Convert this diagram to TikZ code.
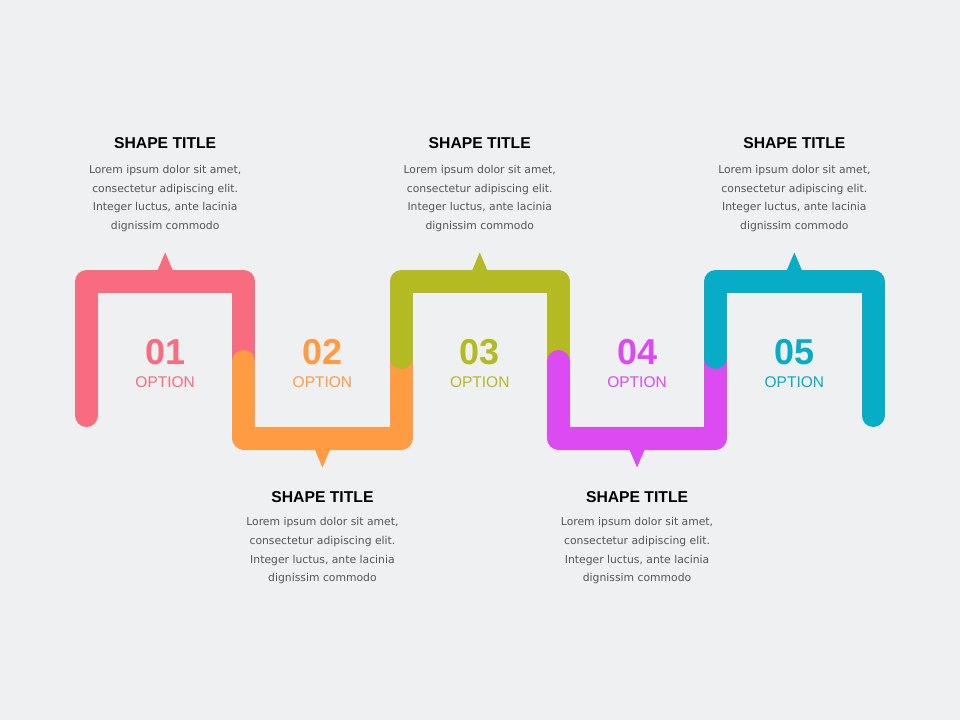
\documentclass[tikz,border=0pt]{standalone}
\usepackage{fontspec}
\setmainfont{Liberation Sans}
\newfontfamily\bodyfont{DejaVu Sans}
\definecolor{bg}{HTML}{EEF0F2}
\definecolor{cA}{HTML}{F96B7F}
\definecolor{cB}{HTML}{FF9B42}
\definecolor{cC}{HTML}{B4BB22}
\definecolor{cD}{HTML}{DB4BF1}
\definecolor{cE}{HTML}{07ADC7}
\definecolor{txt}{HTML}{555555}
\begin{document}
\begin{tikzpicture}[x=1pt,y=-1pt,
 band/.style={line width=23pt, line join=round, line cap=round},
 num/.style={font=\fontsize{36}{36}\selectfont\bfseries, anchor=base, inner sep=0},
 opt/.style={font=\fontsize{15.5}{15.5}\selectfont, anchor=base, inner sep=0},
 ttl/.style={font=\fontsize{15.7}{15.7}\selectfont\bfseries, anchor=base, inner sep=0, text=black},
 body/.style={font=\bodyfont\fontsize{10.8}{18.7}\selectfont, text=txt, align=center, anchor=north, inner sep=0}]
\fill[bg] (0,0) rectangle (960,720);
\useasboundingbox (0,0) rectangle (960,720);
% columns
\def\Xa{86.5}\def\Xb{243.8}\def\Xc{401.1}\def\Xd{558.4}\def\Xe{715.7}\def\Xf{873}
\def\Yt{281.5}\def\Yb{438}
% band corner coordinates
\coordinate (a0) at (\Xa,415.5); \coordinate (a1) at (\Xa,\Yt); \coordinate (a2) at (\Xb,\Yt); \coordinate (a3) at (\Xb,361.5);
\coordinate (b0) at (\Xb,361.5); \coordinate (b1) at (\Xb,\Yb); \coordinate (b2) at (\Xc,\Yb); \coordinate (b3) at (\Xc,357.5);
\coordinate (c0) at (\Xc,357.5); \coordinate (c1) at (\Xc,\Yt); \coordinate (c2) at (\Xd,\Yt); \coordinate (c3) at (\Xd,361.5);
\coordinate (d0) at (\Xd,361.5); \coordinate (d1) at (\Xd,\Yb); \coordinate (d2) at (\Xe,\Yb); \coordinate (d3) at (\Xe,357.5);
\coordinate (e0) at (\Xe,357.5); \coordinate (e1) at (\Xe,\Yt); \coordinate (e2) at (\Xf,\Yt); \coordinate (e3) at (\Xf,415.5);
% bands with pointers
\draw[band, cA] (a0) -- (a1) -- (a2) -- (a3);
\fill[cA] (155.15,276) -- (175.15,276) -- (165.15,252.5) -- cycle;
\draw[band, cB] (b0) -- (b1) -- (b2) -- (b3);
\fill[cB] (312.45,444) -- (332.45,444) -- (322.45,467.5) -- cycle;
\draw[band, cC] (c0) -- (c1) -- (c2) -- (c3);
\fill[cC] (469.75,276) -- (489.75,276) -- (479.75,252.5) -- cycle;
\draw[band, cD] (d0) -- (d1) -- (d2) -- (d3);
\fill[cD] (627.05,444) -- (647.05,444) -- (637.05,467.5) -- cycle;
\draw[band, cE] (e0) -- (e1) -- (e2) -- (e3);
\fill[cE] (784.35,276) -- (804.35,276) -- (794.35,252.5) -- cycle;
% numbers and options
\node[num, text=cA] (n1) at (165.15,364) {01};
\node[opt, text=cA] (o1) at (165.15,387.7) {OPTION};
\node[num, text=cB] (n2) at (322.45,364) {02};
\node[opt, text=cB] (o2) at (322.45,387.7) {OPTION};
\node[num, text=cC] (n3) at (479.75,364) {03};
\node[opt, text=cC] (o3) at (479.75,387.7) {OPTION};
\node[num, text=cD] (n4) at (637.05,364) {04};
\node[opt, text=cD] (o4) at (637.05,387.7) {OPTION};
\node[num, text=cE] (n5) at (794.35,364) {05};
\node[opt, text=cE] (o5) at (794.35,387.7) {OPTION};
% titles and texts
\newcommand{\lorem}{Lorem ipsum dolor sit amet,\\consectetur adipiscing elit.\\Integer luctus, ante lacinia\\dignissim commodo}
\node[ttl] (t1) at (165.15,148.3) {SHAPE TITLE};
\node[body] (p1) at (165.15,165) {\lorem};
\node[ttl] (t3) at (479.75,148.3) {SHAPE TITLE};
\node[body] (p3) at (479.75,165) {\lorem};
\node[ttl] (t5) at (794.35,148.3) {SHAPE TITLE};
\node[body] (p5) at (794.35,165) {\lorem};
\node[ttl] (t2) at (322.45,502.8) {SHAPE TITLE};
\node[body] (p2) at (322.45,517.4) {\lorem};
\node[ttl] (t4) at (637.05,502.8) {SHAPE TITLE};
\node[body] (p4) at (637.05,517.4) {\lorem};
\end{tikzpicture}
\end{document}
